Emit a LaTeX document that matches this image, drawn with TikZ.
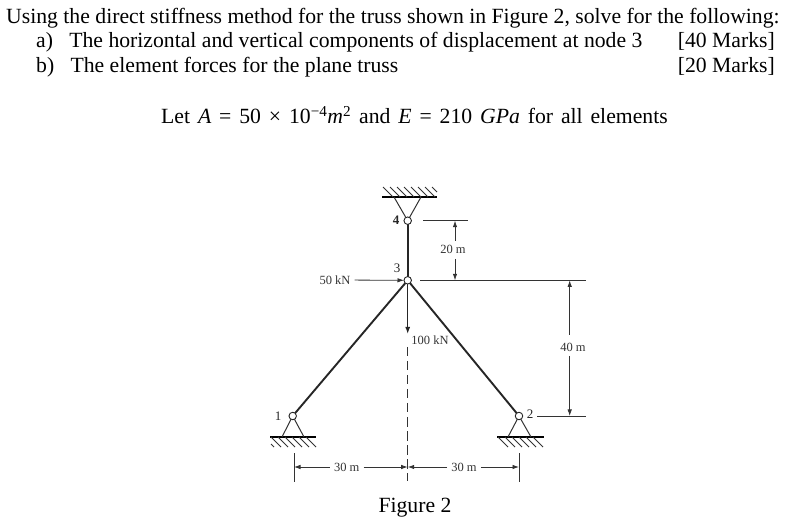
\documentclass[tikz,border=0pt]{standalone}
\usepackage{amsfonts, amsmath, amssymb}
\usepackage{xcolor}
\usepackage{fontspec}
\setmainfont{Liberation Serif}
\usetikzlibrary{arrows.meta}

\begin{document}
\begin{tikzpicture}%
                [x=1pt,
                y=-1pt,
                bar/.style={color=black!85, line width=1.9pt},
                dimline/.style={color=black!80, line width=0.8pt},
                dimarrow/.style={dimline, -{Latex[length=6.5pt,width=4.5pt]}},
                ground/.style={color=black, line width=1.5pt},
                support/.style={color=black!80, line width=1pt},
                hatch/.style={color=black!80, line width=0.8pt},
                hinge/.style={inner sep=0pt,minimum size=7.5pt,circle,draw=black!85,fill=white,line width=0.9pt},
                bodytext/.style={inner sep=0pt,anchor=base west,font=\fontsize{21.7}{25}\selectfont},
                small/.style={inner sep=4pt,color=black!80,font=\fontsize{12.5}{14}\selectfont},
                number/.style={inner sep=1pt,color=black!85,font=\fontsize{13}{14}\selectfont}]
            %
            \useasboundingbox (0,0) rectangle (785,521);
            %% Drawing the question text
            \node[bodytext] (question) at (6,24) {Using the direct stiffness method for the truss shown in Figure 2, solve for the following:};
            \node[bodytext] (parta) at (36,48) {a)\hspace{0.75em}The horizontal and vertical components of displacement at node 3};
            \node[bodytext] (partb) at (36,73) {b)\hspace{0.75em}The element forces for the plane truss};
            \node[bodytext,anchor=base east] (marksa) at (775,48) {[40 Marks]};
            \node[bodytext,anchor=base east] (marksb) at (775,73) {[20 Marks]};
            \node[bodytext] (givens) at (161,124) {\spaceskip=7.9pt Let \textit{A} = 50 × 10\textsuperscript{−4}\textit{m}\textsuperscript{2} and \textit{E} = 210 \textit{GPa} for all elements};
            \node[bodytext,anchor=base] (caption) at (415,512) {Figure 2};
            %% Coordinate of the joints
            %%
            \coordinate (joint1) at (292.7,416);
            \coordinate (joint2) at (519,416);
            \coordinate (joint3) at (407.7,280.3);
            \coordinate (joint4) at (407.7,220.7);
            %%
            %% Drawing the supports
            %%
            \coordinate (top left) at (382,197);
            \coordinate (top right) at (437,197);
            \draw[ground] (top left) -- (top right);
            \foreach \x in {0,7,...,42}
                \draw[hatch] (383+\x,187) -- (393+\x,197);
            \draw[hatch] (432,187) -- (437,192);
            \draw[support] (394,197) -- (joint4) -- (421,197);
            \coordinate (base1 left) at (270,437);
            \coordinate (base1 right) at (316,437);
            \draw[ground] (base1 left) -- (base1 right);
            \foreach \x in {0,7,...,35}
                \draw[hatch] (271+\x,437) -- (281+\x,447);
            \draw[hatch] (271,444) -- (274,447);
            \draw[support] (282,437) -- (joint1) -- (304,437);
            \coordinate (base2 left) at (497,437);
            \coordinate (base2 right) at (544,437);
            \draw[ground] (base2 left) -- (base2 right);
            \foreach \x in {0,7,...,35}
                \draw[hatch] (498+\x,437) -- (508+\x,447);
            \draw[support] (508,437) -- (joint2) -- (531,437);
            %%
            %% Drawing the bars
            %%
            \draw[bar] (joint1) -- (joint3);
            \draw[bar] (joint2) -- (joint3);
            \draw[bar] (joint4) -- (joint3);
            %%
            %% Drawing the loads
            %%
            \node[small] (load50) at (335,280) {50 kN};
            \node[small,inner sep=0.5pt] (load100) at (430,340) {100 kN};
            \coordinate (load100 tip) at (407.7,334);
            \coordinate (center low) at (407.7,481);
            \coordinate (center high) at (407.7,347);
            \coordinate (load50 tip) at (404,280.3);
            \draw[dimarrow] (load50) -- (load50 tip);
            \draw[bar,line width=1.2pt,-{Latex[length=7pt,width=5pt]}] (joint3) -- (load100 tip);
            \draw[dimline,line width=1pt,dash pattern=on 9.5pt off 4.5pt] (center high) -- (center low);
            %%
            %% Drawing the dimensions
            %%
            \coordinate (level4) at (423,220.7);
            \coordinate (level4 end) at (468,220.7);
            \coordinate (level3) at (420,280.3);
            \coordinate (level3 end) at (585.5,280.3);
            \coordinate (level2) at (537,416);
            \coordinate (level2 end) at (585.5,416);
            \draw[dimline] (level4) -- (level4 end);
            \draw[dimline] (level3) -- (level3 end);
            \draw[dimline] (level2) -- (level2 end);
            \node[small] (dim20) at (453,249.5) {20 m};
            \node[small] (dim40) at (573,347) {40 m};
            \coordinate (dim20 top) at (455,220.7);
            \coordinate (dim20 bottom) at (455,280.3);
            \coordinate (dim40 top) at (569.7,280.3);
            \coordinate (dim40 bottom) at (569.7,416);
            \draw[dimarrow] (455,241) -- (dim20 top);
            \draw[dimarrow] (455,259) -- (dim20 bottom);
            \draw[dimarrow] (569.7,335) -- (dim40 top);
            \draw[dimarrow] (569.7,356) -- (dim40 bottom);
            \coordinate (tick1 top) at (294,453);
            \coordinate (tick1 bottom) at (294,481.5);
            \coordinate (tick2 top) at (519,453);
            \coordinate (tick2 bottom) at (519,481.5);
            \coordinate (tick1 mid) at (294,467);
            \coordinate (tick2 mid) at (519,467);
            \coordinate (center mid) at (407.7,467);
            \draw[dimline] (tick1 top) -- (tick1 bottom);
            \draw[dimline] (tick2 top) -- (tick2 bottom);
            \node[small] (span left) at (346.7,467) {30 m};
            \node[small] (span right) at (464,467) {30 m};
            \draw[dimarrow] (span left) -- (tick1 mid);
            \draw[dimarrow] (span left) -- (center mid);
            \draw[dimarrow] (span right) -- (center mid);
            \draw[dimarrow] (span right) -- (tick2 mid);
            %%
            %% Drawing the joints
            %%
            \node[hinge] (hinge1) at (joint1) {};
            \node[hinge] (hinge2) at (joint2) {};
            \node[hinge] (hinge3) at (joint3) {};
            \node[hinge] (hinge4) at (joint4) {};
            \node[number,font=\fontsize{13}{14}\selectfont\bfseries] (label4) at (396,220.5) {4};
            \node[number] (label3) at (397,268) {3};
            \node[number] (label1) at (278,416) {1};
            \node[number] (label2) at (530,414.5) {2};
            %%
            \end{tikzpicture}
\end{document}
